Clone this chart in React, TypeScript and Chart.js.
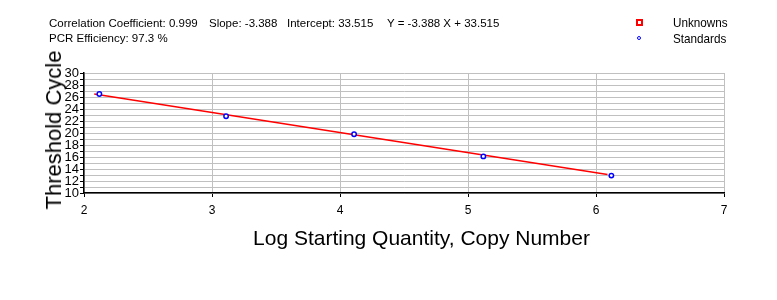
import React, { useEffect, useRef } from "react";
import { Chart, registerables } from "chart.js";

Chart.register(...registerables);

const stdX = [2.12, 3.11, 4.11, 5.12, 6.12];
const stdY = [26.5, 22.8, 19.8, 16.1, 12.9];
const fitX = [2.08, 6.09];
const fitY = [26.5, 13.1];
const unknownX: number[] = [];
const unknownY: number[] = [];

const headerLine1 = [
  { text: "Correlation Coefficient: 0.999", left: 49 },
  { text: "Slope: -3.388", left: 209 },
  { text: "Intercept: 33.515", left: 287 },
  { text: "Y = -3.388 X + 33.515", left: 387 },
];
const headerLine2 = "PCR Efficiency: 97.3 %";
const legendLabels = ["Unknowns", "Standards"];
const yTitle = "Threshold Cycle";
const xTitle = "Log Starting Quantity, Copy Number";

const FONT = "'Liberation Sans', Arial, sans-serif";

export default function App() {
  const ref = useRef<HTMLCanvasElement | null>(null);

  useEffect(() => {
    if (!ref.current) return;
    const chart = new Chart(ref.current, {
      type: "scatter",
      data: {
        datasets: [
          {
            label: "Fit",
            data: fitX.map((x, i) => ({ x, y: fitY[i] })),
            showLine: true,
            borderColor: "#ff0000",
            borderWidth: 1.5,
            pointRadius: 0,
            order: 2,
          },
          {
            label: legendLabels[0],
            data: unknownX.map((x, i) => ({ x, y: unknownY[i] })),
            pointStyle: "rect",
            borderColor: "#ff0000",
            backgroundColor: "#ffffff",
            pointRadius: 3,
            borderWidth: 2,
          },
          {
            label: legendLabels[1],
            data: stdX.map((x, i) => ({ x, y: stdY[i] })),
            pointStyle: "circle",
            borderColor: "#0000ff",
            backgroundColor: "#ffffff",
            pointRadius: 2.2,
            borderWidth: 1.5,
            order: 1,
          },
        ],
      },
      options: {
        animation: false,
        responsive: false,
        maintainAspectRatio: false,
        layout: { padding: { left: 0, top: 73, right: 53, bottom: 0 } },
        plugins: {
          legend: { display: false },
          tooltip: { enabled: false },
        },
        scales: {
          x: {
            type: "linear",
            min: 2,
            max: 7,
            ticks: {
              stepSize: 1,
              color: "#000",
              font: { family: FONT, size: 12 },
              padding: 6,
            },
            grid: {
              color: "#c0c0c0",
              tickColor: "#000",
              tickLength: 4,
              lineWidth: 1,
            },
            border: { color: "#000", width: 1.5 },
            afterFit: (s: any) => {
              s.height = 107;
            },
          },
          y: {
            type: "linear",
            min: 10,
            max: 30,
            ticks: {
              stepSize: 1,
              autoSkip: false,
              color: "#000",
              font: { family: FONT, size: 13 },
              padding: 1,
              callback: (v: any) => (Number(v) % 2 === 0 ? String(v) : ""),
            },
            grid: {
              color: "#c0c0c0",
              tickColor: "#000",
              tickLength: 4,
              lineWidth: 1,
            },
            border: { color: "#000", width: 1.5 },
            afterFit: (s: any) => {
              s.width = 84;
            },
          },
        },
      },
    });
    return () => chart.destroy();
  }, []);

  const base: React.CSSProperties = {
    position: "absolute",
    fontFamily: FONT,
    color: "#000",
    whiteSpace: "pre",
    margin: 0,
  };

  return (
    <div style={{ position: "absolute", left: 0, top: 0, width: 777, height: 300, background: "#fff" }}>
      <canvas ref={ref} width={777} height={300} style={{ position: "absolute", left: 0, top: 0 }} />
      {headerLine1.map((h) => (
        <div key={h.text} style={{ ...base, left: h.left, top: 17.5, fontSize: 11.5, lineHeight: "11.5px" }}>
          {h.text}
        </div>
      ))}
      <div style={{ ...base, left: 49, top: 33, fontSize: 11.5, lineHeight: "11.5px" }}>{headerLine2}</div>

      <div
        style={{
          position: "absolute",
          left: 636,
          top: 19,
          width: 3,
          height: 3,
          border: "2px solid #ff0000",
          background: "#fff",
          boxSizing: "content-box",
        }}
      />
      <div
        style={{
          position: "absolute",
          left: 636.5,
          top: 36,
          width: 2,
          height: 2,
          border: "1.2px solid #0000ff",
          borderRadius: "50%",
          background: "#fff",
          boxSizing: "content-box",
        }}
      />
      <div
        style={{
          ...base,
          left: 673,
          top: 15.7,
          fontSize: 13,
          lineHeight: "13px",
          transform: "scaleX(0.9)",
          transformOrigin: "left center",
        }}
      >
        {legendLabels[0]}
      </div>
      <div
        style={{
          ...base,
          left: 673,
          top: 31.7,
          fontSize: 13,
          lineHeight: "13px",
          transform: "scaleX(0.9)",
          transformOrigin: "left center",
        }}
      >
        {legendLabels[1]}
      </div>

      <div
        style={{
          ...base,
          left: 54,
          top: 130,
          fontSize: 22,
          lineHeight: "22px",
          transform: "translate(-50%, -50%) rotate(-90deg)",
        }}
      >
        {yTitle}
      </div>
      <div
        style={{
          ...base,
          left: 421.5,
          top: 226.5,
          fontSize: 21,
          lineHeight: "21px",
          transform: "translateX(-50%)",
        }}
      >
        {xTitle}
      </div>
    </div>
  );
}
